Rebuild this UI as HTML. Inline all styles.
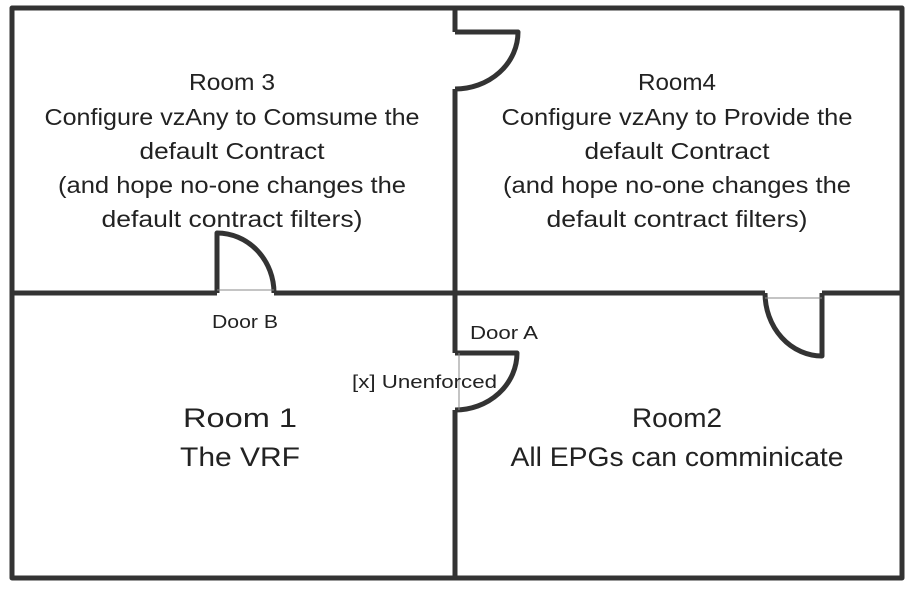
<!DOCTYPE html>
<html><head><style>
body{margin:0;background:#fff;width:910px;height:592px;overflow:hidden}
svg text{font-family:"Liberation Sans",sans-serif;fill:#222}
</style></head><body>
<svg width="910" height="592" viewBox="0 0 910 592">
<g fill="none" stroke="#333" stroke-width="5" stroke-linejoin="round">
<rect x="12" y="8" width="890" height="570"/>
<line x1="12" y1="293" x2="217" y2="293"/>
<line x1="274" y1="293" x2="765" y2="293"/>
<line x1="822" y1="293" x2="902" y2="293"/>
<line x1="455" y1="8" x2="455" y2="32"/>
<line x1="455" y1="89" x2="455" y2="353"/>
<line x1="455" y1="410" x2="455" y2="578"/>
<path d="M455 32 H518 A63 57 0 0 1 455 89"/>
<path d="M217 293 V233 A57 60 0 0 1 274 293"/>
<path d="M455 353 H517 A62 57 0 0 1 455 410"/>
<path d="M822 293 V356 A57 63 0 0 1 765 293"/>
</g>
<g stroke="#888" stroke-width="1">
<line x1="217" y1="290" x2="274" y2="290"/>
<line x1="765" y1="298" x2="822" y2="298"/>
<line x1="459" y1="353" x2="459" y2="410"/>
</g>
<g font-size="23" text-anchor="middle" lengthAdjust="spacingAndGlyphs">
<text x="232" y="90" textLength="86" lengthAdjust="spacingAndGlyphs">Room 3</text>
<text x="232" y="125" textLength="375" lengthAdjust="spacingAndGlyphs">Configure vzAny to Comsume the</text>
<text x="232" y="159" textLength="185" lengthAdjust="spacingAndGlyphs">default Contract</text>
<text x="232" y="193" textLength="348" lengthAdjust="spacingAndGlyphs">(and hope no-one changes the</text>
<text x="232" y="227" textLength="261" lengthAdjust="spacingAndGlyphs">default contract filters)</text>
<text x="677" y="90" textLength="78" lengthAdjust="spacingAndGlyphs">Room4</text>
<text x="677" y="125" textLength="351" lengthAdjust="spacingAndGlyphs">Configure vzAny to Provide the</text>
<text x="677" y="159" textLength="185" lengthAdjust="spacingAndGlyphs">default Contract</text>
<text x="677" y="193" textLength="348" lengthAdjust="spacingAndGlyphs">(and hope no-one changes the</text>
<text x="677" y="227" textLength="261" lengthAdjust="spacingAndGlyphs">default contract filters)</text>
</g>
<g font-size="27" text-anchor="middle">
<text x="240" y="427" textLength="114" lengthAdjust="spacingAndGlyphs">Room 1</text>
<text x="240" y="466" textLength="120" lengthAdjust="spacingAndGlyphs">The VRF</text>
<text x="677" y="427" textLength="90" lengthAdjust="spacingAndGlyphs">Room2</text>
<text x="677" y="466" textLength="333" lengthAdjust="spacingAndGlyphs">All EPGs can comminicate</text>
</g>
<g font-size="18">
<text x="212" y="328" textLength="66" lengthAdjust="spacingAndGlyphs">Door B</text>
<text x="470" y="339" textLength="68" lengthAdjust="spacingAndGlyphs">Door A</text>
<text x="352" y="388" textLength="145" lengthAdjust="spacingAndGlyphs">[x] Unenforced</text>
</g>
</svg>
</body></html>
